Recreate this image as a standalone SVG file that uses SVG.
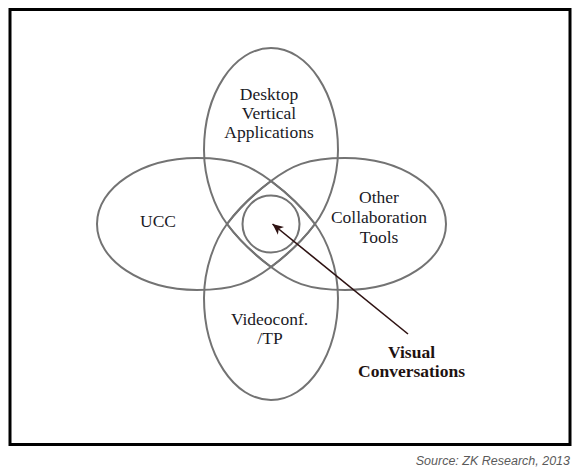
<svg xmlns="http://www.w3.org/2000/svg" width="580" height="474" viewBox="0 0 580 474">
<style>
.set{fill:none;stroke:#737373;stroke-width:2;stroke-linejoin:round}
.lbl{font-family:"Liberation Serif","Times New Roman",serif;font-size:17.5px;fill:#1a1a26;text-anchor:middle}
.bold{font-weight:bold;fill:#1e1210}
.src{font-family:"Liberation Sans",Arial,sans-serif;font-style:italic;font-size:12.5px;fill:#5a5a5a;text-anchor:end}
</style>
<defs>
<marker id="ah" markerWidth="12" markerHeight="10" refX="11" refY="5" orient="auto" markerUnits="userSpaceOnUse">
<path d="M0,0 L11,5 L0,10 L3,5 Z" fill="#2e1212"/>
</marker>
</defs>
<rect x="10" y="9.5" width="560" height="435" fill="#fff" stroke="#000" stroke-width="3"/>
<g id="top-ellipse"><path class="set" d="M271,48 C308,48 338,93.7 338,150 C338,180 327,208 315,224 C303,240 287,255 271,267 C255,255 239,240 227,224 C215,208 204,180 204,150 C204,93.7 234,48 271,48 Z"/>
<text class="lbl" x="269" y="100">Desktop</text><text class="lbl" x="269" y="119">Vertical</text><text class="lbl" x="269" y="138">Applications</text></g>
<g id="left-ellipse"><path class="set" d="M97,224 C97,187.5 141.8,158 197,158 C235,158 251,166 271,181 C287,193 303,208 315,224 C303,240 287,255 271,267 C251,282 235,290 197,290 C141.8,290 97,260.5 97,224 Z"/>
<text class="lbl" x="158" y="227">UCC</text></g>
<g id="right-ellipse"><path class="set" d="M446,224 C446,187.5 400.8,158 345,158 C307,158 291,166 271,181 C255,193 239,208 227,224 C239,240 255,255 271,267 C291,282 307,290 345,290 C400.8,290 446,260.5 446,224 Z"/>
<text class="lbl" x="379" y="203">Other</text><text class="lbl" x="379" y="223">Collaboration</text><text class="lbl" x="379" y="243">Tools</text></g>
<g id="bottom-ellipse"><path class="set" d="M271,400 C308,400 338,354.3 338,298 C338,268 327,240 315,224 C303,208 287,193 271,181 C255,193 239,208 227,224 C215,240 204,268 204,298 C204,354.3 234,400 271,400 Z"/>
<text class="lbl" x="269.5" y="325">Videoconf.</text><text class="lbl" x="270" y="344">/TP</text></g>
<g id="center-circle"><circle class="set" cx="271" cy="224" r="28.5"/></g>
<g id="connectors"><line x1="408" y1="334" x2="272.5" y2="224" stroke="#2e1212" stroke-width="1.6" marker-end="url(#ah)"/></g>
<g id="visual-label"><text class="lbl bold" x="411.5" y="358">Visual</text><text class="lbl bold" x="411.5" y="377">Conversations</text></g>
<text class="src" x="570" y="465">Source: ZK Research, 2013</text>
</svg>
